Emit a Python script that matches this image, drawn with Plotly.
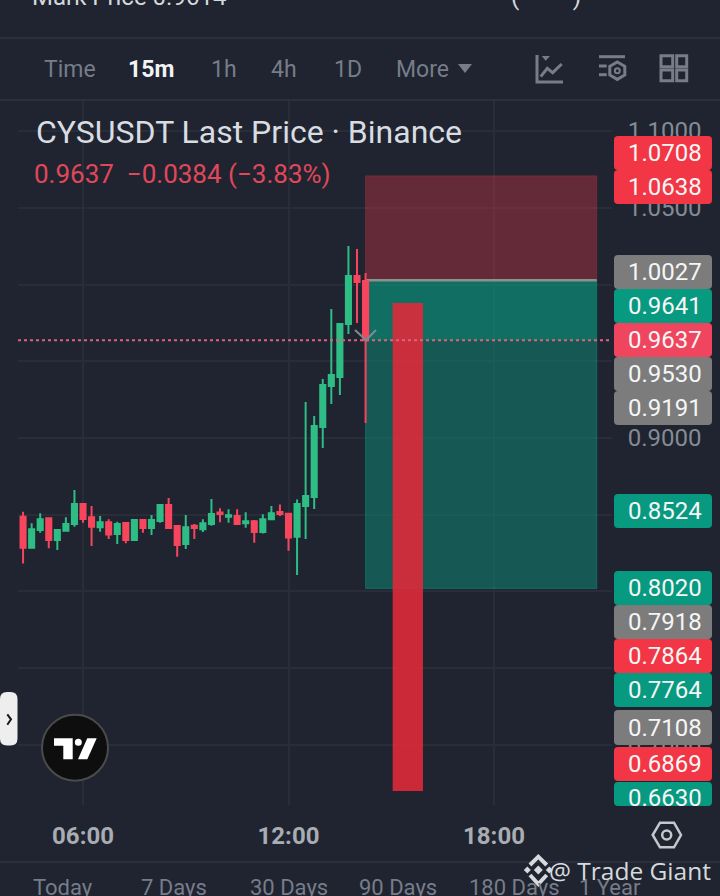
import plotly.graph_objects as go
import pandas as pd

W = 720
H = 896
BG = "#1f2430"
GRID = "#282d38"
UP = "#2ebd85"
DOWN = "#f6465d"
MUTED = "#767d89"
FONT = "Roboto"

DAY = "2025-01-01"
times = pd.date_range(f"{DAY} 04:15", periods=41, freq="15min")

opens = [.8487, .8285, .8401, .8477, .8335, .8396, .8440, .8570, .8483, .8418, .8451, .8375, .8446, .8335,
         .8466, .8414, .8459, .8563, .8427, .8309, .8429, .8405, .8440, .8514, .8487, .8492, .8444, .8457,
         .8388, .8470, .8518, .8507, .8357, .8557, .8616, .9072, .9339, .9397, .9743, 1.0055, 1.0023]
highs = [.8520, .8444, .8509, .8477, .8401, .8483, .8661, .8570, .8557, .8492, .8470, .8455, .8446, .8466,
         .8472, .8498, .8570, .8609, .8427, .8498, .8440, .8470, .8603, .8542, .8535, .8535, .8516, .8466,
         .8503, .8557, .8566, .8507, .8600, .9235, .9143, .9384, .9840, .9749, 1.0251, 1.0231, 1.0075]
lows = [.8183, .8285, .8383, .8281, .8270, .8396, .8422, .8448, .8296, .8390, .8342, .8309, .8314, .8335,
        .8383, .8368, .8448, .8414, .8227, .8277, .8342, .8388, .8429, .8451, .8448, .8440, .8416, .8318,
        .8377, .8470, .8492, .8266, .8107, .8342, .8537, .8935, .9221, .9280, .9678, .9749, .9098]
closes = [.8285, .8405, .8470, .8335, .8401, .8440, .8570, .8472, .8422, .8451, .8372, .8440, .8335, .8466,
          .8414, .8466, .8563, .8414, .8303, .8418, .8414, .8444, .8505, .8505, .8496, .8440, .8457, .8388,
          .8470, .8509, .8505, .8351, .8570, .8622, .9078, .9345, .9410, .9743, 1.0055, 1.0016, .9637]

last_price = 0.9637
stop_price = 1.0708
entry_price = 1.0027
target_price = 0.8020
box_start = f"{DAY} 14:15"
box_end = f"{DAY} 21:00"

bar_time = f"{DAY} 15:29"
bar_top = 0.9879
bar_bottom = 0.6700

price_ticks = [1.10, 1.05, 1.00, 0.95, 0.90, 0.85, 0.80, 0.75, 0.70]
time_ticks = [f"{DAY} 06:00", f"{DAY} 12:00", f"{DAY} 18:00"]
time_labels = ["06:00", "12:00", "18:00"]

flag_labels = ["1.0708", "1.0638", "1.0027", "0.9641", "0.9637", "0.9530", "0.9191", "0.8524",
               "0.8020", "0.7918", "0.7864", "0.7764", "0.7108", "0.6869", "0.6630"]
flag_colors = ["#f23645", "#f23645", "#7c7c7c", "#089981", "#f0455f", "#7c7c7c", "#7c7c7c", "#089981",
               "#089981", "#7c7c7c", "#f23645", "#089981", "#7c7c7c", "#f23645", "#089981"]
flag_tops = [136, 170, 255, 289, 323, 357, 391, 494, 571, 605, 639, 673, 710, 747, 782]
flag_bottoms = [170, 204, 289, 323, 357, 391, 425, 528, 605, 639, 673, 707, 745, 781, 806]
flag_text_y = [153, 187, 272, 306, 340, 374, 408, 511, 588, 622, 656, 690, 728, 764, 798]

toolbar_labels = ["Time", "15m", "1h", "4h", "1D", "More"]
toolbar_x = [44, 128, 211, 271, 334, 396]
range_labels = ["Today", "7 Days", "30 Days", "90 Days", "180 Days", "1 Year"]
range_x = [33, 141, 250, 359, 469, 579]


def px(x, y):
    return f"{x / W:.5f},{1 - y / H:.5f}"


def poly(points, close=False):
    d = "M" + " L".join(px(x, y) for x, y in points)
    return d + (" Z" if close else "")


def rounded(x0, y0, x1, y1, r):
    return (f"M{px(x0 + r, y0)} L{px(x1 - r, y0)} Q{px(x1, y0)} {px(x1, y0 + r)} "
            f"L{px(x1, y1 - r)} Q{px(x1, y1)} {px(x1 - r, y1)} L{px(x0 + r, y1)} "
            f"Q{px(x0, y1)} {px(x0, y1 - r)} L{px(x0, y0 + r)} Q{px(x0, y0)} {px(x0 + r, y0)} Z")


def icon(path, color=None, fill=None, width=3):
    return dict(type="path", xref="paper", yref="paper", path=path, layer="above",
                line=dict(color=color, width=width if color else 0),
                fillcolor=fill or "rgba(0,0,0,0)")


def circle(cx, cy, r, color=None, fill=None, width=2):
    return dict(type="circle", xref="paper", yref="paper", layer="above",
                x0=(cx - r) / W, x1=(cx + r) / W, y0=1 - (cy + r) / H, y1=1 - (cy - r) / H,
                line=dict(color=color, width=width if color else 0), fillcolor=fill or "rgba(0,0,0,0)")


def label(text, x, y, size, color, anchor="left", weight=400, family=FONT):
    return dict(text=text, x=x / W, y=1 - y / H, xref="paper", yref="paper", xanchor=anchor, yanchor="middle",
                showarrow=False, borderpad=0, borderwidth=0,
                font=dict(family=family, size=size, color=color, weight=weight))


fig = go.Figure()
fig.add_trace(go.Candlestick(
    x=times, open=opens, high=highs, low=lows, close=closes,
    whiskerwidth=0,
    increasing=dict(line=dict(color=UP, width=2), fillcolor=UP),
    decreasing=dict(line=dict(color=DOWN, width=2), fillcolor=DOWN),
    hoverinfo="skip",
))
fig.add_trace(go.Bar(
    x=[bar_time], y=[bar_top - bar_bottom], base=[bar_bottom], width=[3185000],
    marker=dict(color="rgba(222,42,58,0.9)", line=dict(width=0)),
    hoverinfo="skip",
))

shapes = []
# position boxes sit between the grid and the candles
shapes.append(dict(type="rect", xref="x", yref="y", layer="between", x0=box_start, x1=box_end,
                   y0=entry_price, y1=stop_price, fillcolor="rgba(242,54,69,0.33)",
                   line=dict(color="rgba(242,54,69,0.25)", width=1)))
shapes.append(dict(type="rect", xref="x", yref="y", layer="between", x0=box_start, x1=box_end,
                   y0=target_price, y1=entry_price, fillcolor="rgba(8,153,129,0.45)",
                   line=dict(color="rgba(8,153,129,0.5)", width=1)))
shapes.append(dict(type="rect", xref="x", yref="y", layer="between", x0=box_start, x1=box_end,
                   y0=last_price, y1=entry_price, fillcolor="rgba(8,153,129,0.34)", line=dict(width=0)))
shapes.append(dict(type="line", xref="x", yref="y", layer="between", x0=box_start, x1=box_end,
                   y0=entry_price, y1=entry_price, line=dict(color="#8b9090", width=2.5)))
shapes.append(dict(type="line", xref="x domain", yref="y", x0=0, x1=1, y0=last_price, y1=last_price,
                   layer="above", line=dict(color="#d9657c", width=2, dash="dot")))
# cursor mark by the last candle
shapes.append(icon(poly([(355, 330), (366, 340), (376, 330)]), color="#7e8a90", width=2))

# page rules
for rule_y in [38, 100, 862]:
    shapes.append(icon(poly([(0, rule_y), (W, rule_y)]), color="#2f3440", width=1.5))

# toolbar icons
shapes.append(icon(poly([(537, 55), (537, 82), (563, 82)]), color=MUTED))
shapes.append(icon(poly([(541.7, 56), (550, 56), (545.7, 60.7)], close=True), fill=MUTED))
shapes.append(icon(poly([(540.7, 76.7), (547.3, 68.3), (552.7, 72.7), (561.7, 64)]), color=MUTED))
shapes.append(icon(poly([(599, 56.7), (625, 56.7)]), color=MUTED))
shapes.append(icon(poly([(599, 66), (606.7, 66)]), color=MUTED))
shapes.append(icon(poly([(599, 74.7), (606.7, 74.7)]), color=MUTED))
shapes.append(icon(poly([(617.3, 62), (624.8, 66.3), (624.8, 75), (617.3, 79.4), (609.8, 75), (609.8, 66.3)], close=True),
                   color=MUTED))
shapes.append(circle(617.3, 70.7, 2.5, color=MUTED))
for x0, y0, x1, y1 in [(661, 55.7, 672.7, 66.7), (676.7, 55.7, 686.7, 66.7), (661, 70, 672.7, 80.7), (676.7, 70, 686.7, 80.7)]:
    shapes.append(icon(poly([(x0, y0), (x1, y0), (x1, y1), (x0, y1)], close=True), color=MUTED))
shapes.append(icon(poly([(458, 64), (472, 64), (465, 73)], close=True), fill=MUTED))

# price flags
for top, bottom, color in zip(flag_tops, flag_bottoms, flag_colors):
    shapes.append(icon(rounded(614, top, 712, bottom, 4), fill=color))

# side handle and logo badge
shapes.append(icon(rounded(0, 692, 17.5, 745.5, 7), fill="#eeeeee"))
shapes.append(icon(poly([(7.3, 714.3), (11, 719.3), (7.3, 724.7)]), color="#1a1a1a", width=2))
shapes.append(circle(75, 747.7, 33, color="#4b4b4b", fill="#0e0e0f", width=2))
shapes.append(icon(poly([(54, 738.3), (72.7, 738.3), (72.7, 759.3), (63.3, 759.3), (63.3, 745.7), (54, 745.7)], close=True),
                   fill="#ffffff"))
shapes.append(circle(78.3, 742.3, 3.5, fill="#ffffff"))
shapes.append(icon(poly([(87.3, 738.3), (96.7, 738.3), (87.3, 759.3), (78, 759.3)], close=True), fill="#ffffff"))

# settings hexagon
shapes.append(icon(poly([(652.7, 835), (660, 822.7), (674, 822.7), (681, 835), (674, 847.3), (660, 847.3)], close=True),
                   color="#c4c8cc", width=2.5))
shapes.append(circle(666.7, 835, 4.5, color="#c4c8cc", width=2.5))

# watermark diamond
WM = "#d7dadd"
shapes.append(icon(poly([(530, 865), (538.3, 856.7), (546.7, 865)]), color=WM, width=4))
shapes.append(icon(poly([(530, 875), (538.3, 884), (546.7, 875)]), color=WM, width=4))
for cx, r in [(527.3, 3.5), (538.3, 4.5), (549.3, 3.5)]:
    shapes.append(icon(poly([(cx - r, 870), (cx, 870 - r), (cx + r, 870), (cx, 870 + r)], close=True), fill=WM))

annotations = [
    label("Mark Price 0.9614", 32, -3, 24, "#d5d8dc"),
    label("(         )", 511, -3, 24, "#d5d8dc"),
    label("CYSUSDT Last Price · Binance", 36, 132, 32, "#d9dce1"),
    label("0.9637  −0.0384 (−3.83%)", 34, 174, 26, "#e0485a"),
]
for text, x in zip(toolbar_labels, toolbar_x):
    active = text == "15m"
    annotations.append(label(text, x, 69, 23, "#f1f3f5" if active else MUTED, weight=700 if active else 400))
for text, x in zip(range_labels, range_x):
    annotations.append(label(text, x, 887, 22, MUTED))
annotations.append(label("@ Trade Giant", 711, 870, 24.5, WM, anchor="right", family="Open Sans"))
for text, text_y in zip(flag_labels, flag_text_y):
    annotations.append(label(text, 702, text_y, 24, "#f4f6f6", anchor="right"))

fig.update_layout(
    width=W, height=H,
    margin=dict(l=0, r=0, t=0, b=0),
    paper_bgcolor=BG, plot_bgcolor=BG,
    showlegend=False,
    boxgap=0.15,
    barmode="overlay",
    shapes=shapes,
    annotations=annotations,
    xaxis=dict(
        type="date",
        domain=[18 / W, 612 / W],
        range=[f"{DAY} 04:06:07", f"{DAY} 21:26:43"],
        rangeslider=dict(visible=False),
        tickvals=time_ticks, ticktext=time_labels,
        tickfont=dict(family=FONT, size=24, color="#a9adb3", weight=700),
        ticks="outside", ticklen=9, tickcolor="rgba(0,0,0,0)",
        showgrid=True, gridcolor=GRID, gridwidth=2,
        showline=False, zeroline=False,
    ),
    yaxis=dict(
        side="right",
        domain=[1 - 805 / H, 1 - 100 / H],
        range=[0.6609, 1.1202],
        tickvals=price_ticks,
        tickformat=".4f",
        tickfont=dict(family=FONT, size=24, color="#858b95"),
        ticks="outside", ticklen=10, tickcolor="rgba(0,0,0,0)",
        showgrid=True, gridcolor=GRID, gridwidth=2,
        showline=False, zeroline=False,
    ),
)

# the page's default body margin would shift the chart
fig.write_html("out.html", config=dict(displayModeBar=False),
               post_script="document.body.style.margin='0';document.body.style.overflow='hidden';")
